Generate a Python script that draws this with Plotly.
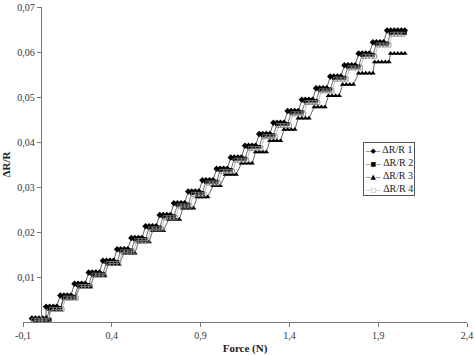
import plotly.graph_objects as go

# ---- data: rows of (dR/R value, force values) read from the staircase clusters ----
S1_ROWS = [
    (0.0008, [-0.05, -0.03, -0.01, 0.01, 0.03]),
    (0.0034, [0.03, 0.05, 0.07, 0.09]),
    (0.0059, [0.11, 0.13, 0.15, 0.17]),
    (0.0085, [0.19, 0.21, 0.23, 0.25]),
    (0.0110, [0.27, 0.29, 0.31, 0.33]),
    (0.0136, [0.35, 0.37, 0.39, 0.41]),
    (0.0162, [0.43, 0.45, 0.47, 0.49]),
    (0.0187, [0.51, 0.53, 0.55, 0.57]),
    (0.0213, [0.59, 0.61, 0.63, 0.65]),
    (0.0238, [0.67, 0.69, 0.71, 0.73]),
    (0.0264, [0.75, 0.77, 0.79, 0.81]),
    (0.0290, [0.83, 0.85, 0.87, 0.89]),
    (0.0315, [0.91, 0.93, 0.95, 0.97]),
    (0.0341, [0.99, 1.01, 1.03, 1.05]),
    (0.0366, [1.07, 1.09, 1.11, 1.13]),
    (0.0392, [1.15, 1.17, 1.19, 1.21]),
    (0.0418, [1.23, 1.25, 1.27, 1.29]),
    (0.0443, [1.31, 1.33, 1.35, 1.37]),
    (0.0469, [1.39, 1.41, 1.43, 1.45]),
    (0.0494, [1.47, 1.49, 1.51, 1.53]),
    (0.0520, [1.55, 1.57, 1.59, 1.61]),
    (0.0546, [1.63, 1.65, 1.67, 1.69]),
    (0.0571, [1.71, 1.73, 1.75, 1.77]),
    (0.0597, [1.79, 1.81, 1.83, 1.85]),
    (0.0622, [1.87, 1.89, 1.91, 1.93]),
    (0.0648, [1.95, 1.97, 1.99, 2.01, 2.03, 2.05]),
]

S2_ROWS = [
    (0.0005, [-0.03, -0.01, 0.01, 0.03, 0.05]),
    (0.0031, [0.05, 0.07, 0.09, 0.11]),
    (0.0056, [0.13, 0.15, 0.17, 0.19]),
    (0.0082, [0.21, 0.23, 0.25, 0.27]),
    (0.0107, [0.29, 0.31, 0.33, 0.35]),
    (0.0133, [0.37, 0.39, 0.41, 0.43]),
    (0.0159, [0.45, 0.47, 0.49, 0.51]),
    (0.0184, [0.53, 0.55, 0.57, 0.59]),
    (0.0210, [0.61, 0.63, 0.65, 0.67]),
    (0.0235, [0.69, 0.71, 0.73, 0.75]),
    (0.0261, [0.77, 0.79, 0.81, 0.83]),
    (0.0287, [0.85, 0.87, 0.89, 0.91]),
    (0.0312, [0.93, 0.95, 0.97, 0.99]),
    (0.0338, [1.01, 1.03, 1.05, 1.07]),
    (0.0363, [1.09, 1.11, 1.13, 1.15]),
    (0.0389, [1.17, 1.19, 1.21, 1.23]),
    (0.0415, [1.25, 1.27, 1.29, 1.31]),
    (0.0440, [1.33, 1.35, 1.37, 1.39]),
    (0.0466, [1.41, 1.43, 1.45, 1.47]),
    (0.0491, [1.49, 1.51, 1.53, 1.55]),
    (0.0517, [1.57, 1.59, 1.61, 1.63]),
    (0.0543, [1.65, 1.67, 1.69, 1.71]),
    (0.0568, [1.73, 1.75, 1.77, 1.79]),
    (0.0594, [1.81, 1.83, 1.85, 1.87]),
    (0.0619, [1.89, 1.91, 1.93, 1.95]),
    (0.0643, [1.97, 1.99, 2.01, 2.03, 2.05]),
]

S3_ROWS = [
    (0.0003, [-0.03, -0.01, 0.01, 0.03]),
    (0.0028, [0.05, 0.07, 0.09, 0.11]),
    (0.0053, [0.13, 0.15, 0.17, 0.19]),
    (0.0078, [0.22, 0.24, 0.26, 0.28]),
    (0.0103, [0.30, 0.32, 0.34, 0.36]),
    (0.0128, [0.38, 0.40, 0.42, 0.44]),
    (0.0153, [0.47, 0.49, 0.51, 0.53]),
    (0.0178, [0.55, 0.57, 0.59, 0.61]),
    (0.0203, [0.63, 0.65, 0.67, 0.69]),
    (0.0228, [0.72, 0.74, 0.76, 0.78]),
    (0.0253, [0.80, 0.82, 0.84, 0.86]),
    (0.0278, [0.88, 0.90, 0.92, 0.94]),
    (0.0303, [0.97, 0.99, 1.01]),
    (0.0328, [1.04, 1.06, 1.08, 1.10]),
    (0.0353, [1.13, 1.15, 1.17, 1.19]),
    (0.0378, [1.21, 1.23, 1.25, 1.27]),
    (0.0403, [1.29, 1.31, 1.33, 1.35]),
    (0.0428, [1.37, 1.39, 1.41, 1.43]),
    (0.0453, [1.45, 1.47, 1.49, 1.51]),
    (0.0478, [1.54, 1.56, 1.58, 1.60]),
    (0.0503, [1.62, 1.64, 1.66, 1.68]),
    (0.0528, [1.70, 1.72, 1.74, 1.76]),
    (0.0553, [1.79, 1.81, 1.83, 1.85, 1.87]),
    (0.0578, [1.88, 1.90, 1.92, 1.94, 1.96]),
    (0.0597, [1.97, 1.99, 2.01, 2.03, 2.05]),
]

S4_ROWS = [
    (0.0004, [-0.04, -0.02, 0.00, 0.02, 0.04]),
    (0.0028, [0.06, 0.08, 0.10, 0.12]),
    (0.0053, [0.14, 0.16, 0.18, 0.20]),
    (0.0079, [0.22, 0.24, 0.26, 0.28]),
    (0.0104, [0.30, 0.32, 0.34, 0.36]),
    (0.0130, [0.38, 0.40, 0.42, 0.44]),
    (0.0156, [0.46, 0.48, 0.50, 0.52]),
    (0.0181, [0.54, 0.56, 0.58, 0.60]),
    (0.0207, [0.62, 0.64, 0.66, 0.68]),
    (0.0232, [0.70, 0.72, 0.74, 0.76]),
    (0.0258, [0.78, 0.80, 0.82, 0.84]),
    (0.0284, [0.86, 0.88, 0.90, 0.92]),
    (0.0309, [0.94, 0.96, 0.98, 1.00]),
    (0.0335, [1.02, 1.04, 1.06, 1.08]),
    (0.0360, [1.10, 1.12, 1.14, 1.16]),
    (0.0386, [1.18, 1.20, 1.22, 1.24]),
    (0.0412, [1.26, 1.28, 1.30, 1.32]),
    (0.0437, [1.34, 1.36, 1.38, 1.40]),
    (0.0463, [1.42, 1.44, 1.46, 1.48]),
    (0.0488, [1.50, 1.52, 1.54, 1.56]),
    (0.0514, [1.58, 1.60, 1.62, 1.64]),
    (0.0540, [1.66, 1.68, 1.70, 1.72]),
    (0.0565, [1.74, 1.76, 1.78, 1.80]),
    (0.0591, [1.82, 1.84, 1.86, 1.88]),
    (0.0616, [1.90, 1.92, 1.94, 1.96]),
    (0.0640, [1.98, 2.00, 2.02, 2.04]),
]

SERIES_NAMES = ["ΔR/R 1", "ΔR/R 2", "ΔR/R 3", "ΔR/R 4"]
X_TICKS = [-0.1, 0.4, 0.9, 1.4, 1.9, 2.4]
X_TICK_LABELS = ["-0,1", "0,4", "0,9", "1,4", "1,9", "2,4"]
Y_TICKS = [0, 0.01, 0.02, 0.03, 0.04, 0.05, 0.06, 0.07]
Y_TICK_LABELS = ["", "0,01", "0,02", "0,03", "0,04", "0,05", "0,06", "0,07"]


def flatten(rows):
    xs, ys = [], []
    for yv, row in rows:
        for xv in row:
            xs.append(xv)
            ys.append(yv)
    return xs, ys


STYLES = [
    dict(symbol="diamond", size=5, color="black", line_color="#222222", open=False, glyph="◆", gsize=7),
    dict(symbol="square", size=4, color="black", line_color="#333333", open=False, glyph="■", gsize=6),
    dict(symbol="triangle-up", size=5, color="black", line_color="#222222", open=False, glyph="▲", gsize=7),
    dict(symbol="square-open", size=4, color="#808080", line_color="#a0a0a0", open=True, glyph="□", gsize=6),
]

FONT = "Liberation Serif, Times New Roman, serif"
GLYPH_FONT = "DejaVu Sans"
X_MIN, X_MAX = -0.1, 2.4

fig = go.Figure()
for name, rows, st in zip(SERIES_NAMES, [S1_ROWS, S2_ROWS, S3_ROWS, S4_ROWS], STYLES):
    xs, ys = flatten(rows)
    fig.add_trace(go.Scatter(
        x=xs, y=ys, name=name, mode="lines+markers", showlegend=False,
        line=dict(color=st["line_color"], width=0.7),
        marker=dict(symbol=st["symbol"], size=st["size"], color=st["color"],
                    line=dict(width=0.8 if st["open"] else 0, color=st["color"])),
    ))

# compact legend box (Excel-style), built from the series names and styles
legend_lines = []
for name, st in zip(SERIES_NAMES, STYLES):
    legend_lines.append(
        f"<span style='color:{st['line_color']};font-size:9px'>–</span>"
        f"<span style='color:{st['color']};font-size:{st['gsize']}px;font-family:{GLYPH_FONT}'>{st['glyph']}</span>"
        f"<span style='color:{st['line_color']};font-size:9px'>–</span> {name}"
    )
fig.add_annotation(
    xref="paper", yref="paper", x=0.766, y=0.57, xanchor="left", yanchor="top",
    text="<br>".join(legend_lines), showarrow=False, align="left",
    font=dict(family=FONT, size=10, color="#222222"),
    bordercolor="#555555", borderwidth=1, borderpad=1, bgcolor="white",
)

fig.update_layout(
    width=474, height=355,
    margin=dict(l=23, r=7, t=7, b=33, pad=0),
    paper_bgcolor="white", plot_bgcolor="white",
    font=dict(family=FONT, size=10, color="#222222"),
    xaxis=dict(
        range=[X_MIN, X_MAX], tickvals=X_TICKS, ticktext=X_TICK_LABELS,
        showgrid=False, zeroline=False, showline=True, linecolor="#777777", linewidth=1,
        ticks="outside", ticklen=4, tickcolor="#777777",
        tickfont=dict(family=FONT, size=10, color="#333333"),
        title=dict(text="<b>Force (N)</b>", font=dict(family=FONT, size=11, color="#222222"), standoff=6),
        automargin=False,
    ),
    yaxis=dict(
        range=[0, 0.07005], tickvals=Y_TICKS, ticktext=Y_TICK_LABELS,
        anchor="free", position=(0 - X_MIN) / (X_MAX - X_MIN),
        showgrid=False, zeroline=False, showline=True, linecolor="#777777", linewidth=1,
        ticks="outside", ticklen=4, tickcolor="#777777",
        tickfont=dict(family=FONT, size=10, color="#333333"),
        ticklabeloverflow="allow",
        title=dict(text="<b>ΔR/R</b>", font=dict(family=FONT, size=11, color="#222222"), standoff=4),
        automargin=False,
    ),
)

fig.write_html("out.html")
